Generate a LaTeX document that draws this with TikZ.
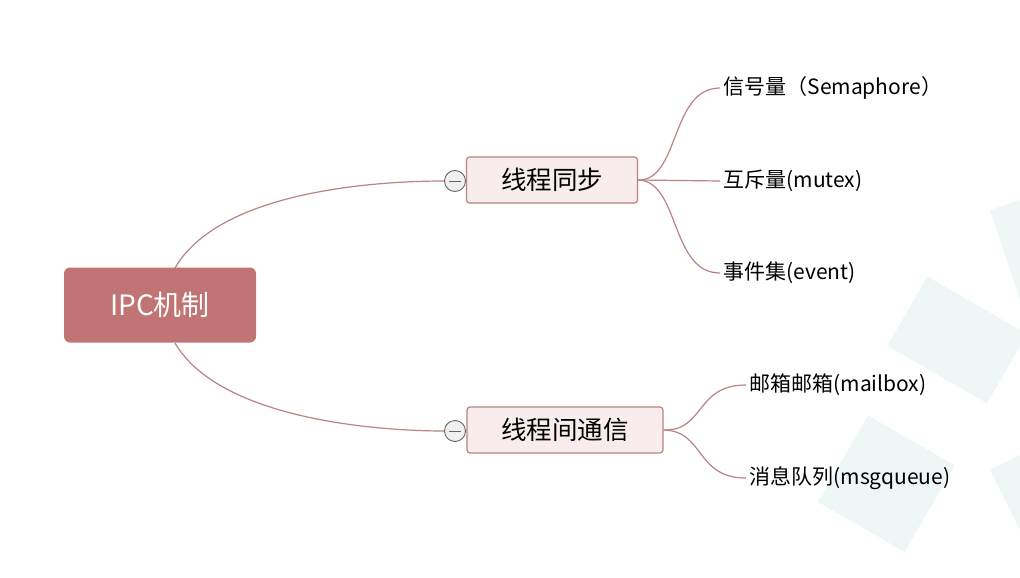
\documentclass[tikz,border=0pt]{standalone}
\usepackage{fontspec}
\setmainfont{Noto Sans CJK SC}
\definecolor{rootc}{HTML}{C07474}
\definecolor{linec}{HTML}{B98383}
\definecolor{midf}{HTML}{F8ECEC}
\definecolor{bgc}{HTML}{EEF6F6}
\begin{document}
\begin{tikzpicture}[x=1pt,y=-1pt,
  line/.style={draw=linec, line width=1.2pt},
  mid/.style={draw=linec, fill=midf, rounded corners=3pt, line width=1.2pt, minimum height=46pt, font=\fontsize{25.5}{30}\selectfont},
  leaf/.style={anchor=west, font=\fontsize{21}{25}\selectfont},
  tog/.style={circle, draw=gray!80!black, fill=gray!12, line width=0.9pt, minimum size=21pt, inner sep=0pt}]
\useasboundingbox (0,0) rectangle (1020,578);
\fill[bgc] (990,210) -- (1020,200) -- (1020,300) -- cycle;
\fill[bgc, rotate around={-30:(960,330)}] (905,300) rectangle (1020,380);
\fill[bgc, rotate around={-30:(900,480)}] (840,440) rectangle (940,540);
\fill[bgc] (990,470) -- (1020,455) -- (1020,530) -- cycle;
\node[fill=rootc, rounded corners=6pt, minimum width=192pt, minimum height=75pt, text=white, font=\fontsize{28}{32}\selectfont] (root) at (160,305) {IPC机制};
\node[mid, minimum width=171pt] (n1) at (552,180) {线程同步};
\node[mid, minimum width=196pt] (n2) at (565,430) {线程间通信};
\node[tog] (t1) at (455,181) {};
\node[tog] (t2) at (455,431) {};
\draw[gray!80!black, line width=0.9pt] (t1.center)+(-6,0) -- +(6,0);
\draw[gray!80!black, line width=0.9pt] (t2.center)+(-6,0) -- +(6,0);
\coordinate (r1) at (175,268);
\coordinate (r2) at (175,343);
\draw[line] (r1) .. controls (220,190) and (380,181) .. (t1.west);
\draw[line] (r2) .. controls (220,420) and (380,431) .. (t2.west);
\node[leaf] (a) at (720,88) {信号量（Semaphore）};
\node[leaf] (b) at (720,181) {互斥量(mutex)};
\node[leaf] (c) at (720,273) {事件集(event)};
\node[leaf] (d) at (746,385) {邮箱邮箱(mailbox)};
\node[leaf] (e) at (746,478) {消息队列(msgqueue)};
\draw[line] (n1.east) .. controls (680,181) and (670,88) .. (a.west);
\draw[line] (n1.east) -- (b.west);
\draw[line] (n1.east) .. controls (680,181) and (670,273) .. (c.west);
\draw[line] (n2.east) .. controls (705,431) and (695,385) .. (d.west);
\draw[line] (n2.east) .. controls (705,431) and (695,478) .. (e.west);
\end{tikzpicture}
\end{document}
